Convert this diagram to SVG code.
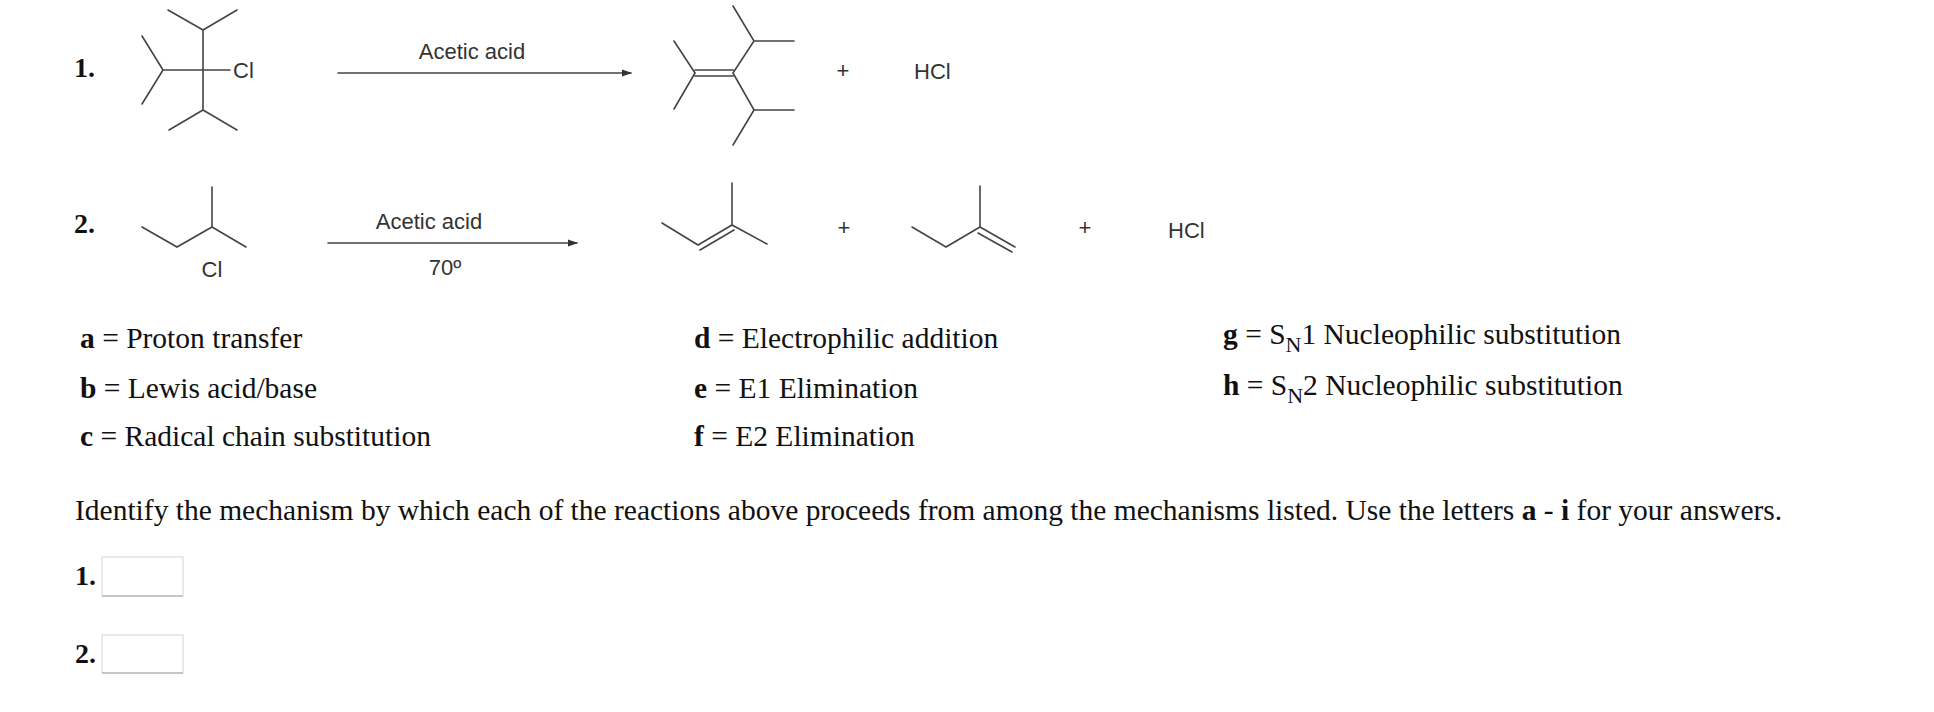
<svg xmlns="http://www.w3.org/2000/svg" width="1934" height="712" viewBox="0 0 1934 712">
<style>
.b{stroke:#444;stroke-width:1.6;fill:none;stroke-linecap:round}
.s{font-family:"Liberation Sans",Arial,sans-serif;font-size:22px;fill:#333}
.t{font-family:"Liberation Serif","Times New Roman",serif;font-size:29.5px;fill:#111}
.n{font-family:"Liberation Serif","Times New Roman",serif;font-size:28px;font-weight:bold;fill:#111}
.box{fill:#fff;stroke:#ddd;stroke-width:1.2}
</style>
<defs><marker id="ah" markerWidth="10" markerHeight="8" refX="9" refY="4" orient="auto" markerUnits="userSpaceOnUse"><path d="M0,0.5 L10,4 L0,7.5 Z" fill="#333"/></marker></defs>
<rect width="1934" height="712" fill="#fff"/>
<g id="label1"><text class="n" x="74" y="77">1.</text></g>
<g id="label2"><text class="n" x="74" y="233">2.</text></g>
<g id="reactant1">
<path class="b" d="M203,30 V110 M203,30 L168,10 M203,30 L237,10 M203,110 L169,130 M203,110 L237,130 M163,70 H230 M163,70 L142,36 M163,70 L142,104"/>
<text class="s" x="233" y="78">Cl</text>
</g>
<g id="product1a">
<path class="b" d="M695,70 H733 M695,76 H733 M695,73 L674,41 M695,73 L674,109 M733,73 L754,41 L733,6 M754,41 H794 M733,73 L754,110 H794 M754,110 L733,145"/>
</g>
<g id="plus1"><text class="s" x="843" y="78" text-anchor="middle" font-size="14">+</text></g>
<g id="hcl1"><text class="s" x="914" y="79">HCl</text></g>
<g id="reactant2">
<path class="b" d="M142,227 L177,247 L212,227 L246,247 M212,187 V227"/>
<text class="s" x="212" y="277" text-anchor="middle">Cl</text>
</g>
<g id="product2a">
<path class="b" d="M662,223 L698,245 L732,225 L767,244 M732,183 V225 M700,250 L734,230"/>
</g>
<g id="plus2"><text class="s" x="844" y="235" text-anchor="middle" font-size="14">+</text></g>
<g id="product2b">
<path class="b" d="M912,227 L946,247 L980,227 L1015,247 M980,186 V227 M978,233 L1012,252"/>
</g>
<g id="plus3"><text class="s" x="1085" y="235" text-anchor="middle" font-size="14">+</text></g>
<g id="hcl2"><text class="s" x="1168" y="238">HCl</text></g>
<g id="connectors">
<line class="b" x1="338" y1="73" x2="631" y2="73" marker-end="url(#ah)"/>
<text class="s" x="472" y="59" text-anchor="middle">Acetic acid</text>
<line class="b" x1="328" y1="243" x2="577" y2="243" marker-end="url(#ah)"/>
<text class="s" x="429" y="229" text-anchor="middle">Acetic acid</text>
<text class="s" x="445" y="275" text-anchor="middle">70º</text>
</g>
<g id="legend">
<text class="t" x="80" y="348"><tspan font-weight="bold">a</tspan> = Proton transfer</text>
<text class="t" x="80" y="398"><tspan font-weight="bold">b</tspan> = Lewis acid/base</text>
<text class="t" x="80" y="446"><tspan font-weight="bold">c</tspan> = Radical chain substitution</text>
<text class="t" x="694" y="348"><tspan font-weight="bold">d</tspan> = Electrophilic addition</text>
<text class="t" x="694" y="398"><tspan font-weight="bold">e</tspan> = E1 Elimination</text>
<text class="t" x="694" y="446"><tspan font-weight="bold">f</tspan> = E2 Elimination</text>
<text class="t" x="1223" y="344"><tspan font-weight="bold">g</tspan> = S<tspan font-size="22" dy="8">N</tspan><tspan dy="-8">1 Nucleophilic substitution</tspan></text>
<text class="t" x="1223" y="395"><tspan font-weight="bold">h</tspan> = S<tspan font-size="22" dy="8">N</tspan><tspan dy="-8">2 Nucleophilic substitution</tspan></text>
<text class="t" x="75" y="520" font-size="30.3">Identify the mechanism by which each of the reactions above proceeds from among the mechanisms listed. Use the letters <tspan font-weight="bold">a</tspan> - <tspan font-weight="bold">i</tspan> for your answers.</text>
</g>
<g id="answer1"><text class="n" x="75" y="585">1.</text><rect class="box" x="102" y="557" width="81" height="39"/><line x1="102" y1="596" x2="183" y2="596" stroke="#bbb" stroke-width="1.5"/></g>
<g id="answer2"><text class="n" x="75" y="663">2.</text><rect class="box" x="102" y="635" width="81" height="38"/><line x1="102" y1="673" x2="183" y2="673" stroke="#bbb" stroke-width="1.5"/></g>
</svg>
